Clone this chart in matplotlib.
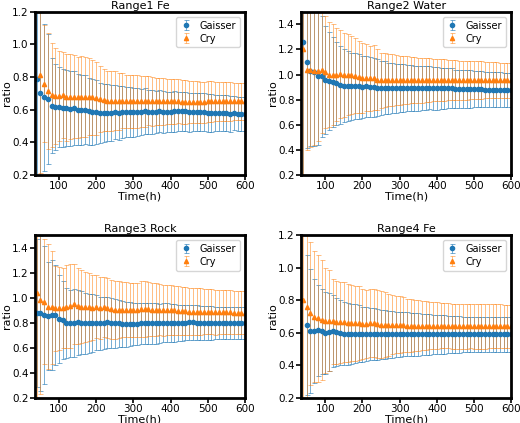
import numpy as np
import matplotlib
matplotlib.use("Agg")
import matplotlib.pyplot as plt

nan = np.nan
time_h = list(range(40, 610, 10))

# ---- Range1 Fe
r1_gai = [0.79, 0.70, 0.675, 0.665, 0.625, 0.615,
          0.615, 0.61, 0.61, 0.605, 0.61, 0.60, 0.595, 0.60, 0.59, 0.585,
          0.585, 0.58, 0.58, 0.58, 0.58, 0.585, 0.58, 0.585, 0.585, 0.585,
          0.585, 0.585, 0.585, 0.59, 0.585, 0.585, 0.585, 0.59, 0.585, 0.585,
          0.585, 0.59, 0.59, 0.59, 0.59, 0.585, 0.585, 0.585, 0.585, 0.585,
          0.58, 0.58, 0.58, 0.58, 0.58, 0.58, 0.575, 0.58, 0.575, 0.575,
          0.575]
r1_gai_err = [0.9, 0.55, 0.45, 0.40, 0.29, 0.265,
              0.245, 0.24, 0.235, 0.23, 0.225, 0.22, 0.215, 0.21, 0.205, 0.20,
              0.195, 0.185, 0.18, 0.175, 0.17, 0.165, 0.165, 0.16, 0.155, 0.155,
              0.15, 0.145, 0.14, 0.14, 0.135, 0.135, 0.13, 0.13, 0.13, 0.125,
              0.125, 0.125, 0.12, 0.12, 0.12, 0.12, 0.115, 0.115, 0.115, 0.115,
              0.115, 0.115, 0.11, 0.11, 0.11, 0.11, 0.11, 0.105, 0.105, 0.105,
              0.105]
r1_cry = [nan, 0.81, 0.76, 0.715, 0.69, 0.685,
          0.685, 0.69, 0.675, 0.68, 0.68, 0.675, 0.68, 0.68, 0.68, 0.675,
          0.67, 0.665, 0.66, 0.655, 0.655, 0.655, 0.65, 0.655, 0.65, 0.65,
          0.65, 0.65, 0.65, 0.65, 0.655, 0.65, 0.65, 0.65, 0.65, 0.65,
          0.65, 0.65, 0.65, 0.645, 0.645, 0.645, 0.645, 0.645, 0.645, 0.645,
          0.65, 0.65, 0.65, 0.65, 0.65, 0.65, 0.65, 0.65, 0.65, 0.65,
          0.65]
r1_cry_err = [nan, 0.6, 0.36, 0.355, 0.32, 0.295,
              0.275, 0.265, 0.265, 0.26, 0.255, 0.25, 0.25, 0.245, 0.235, 0.23,
              0.225, 0.20, 0.19, 0.185, 0.185, 0.18, 0.175, 0.17, 0.165, 0.165,
              0.16, 0.16, 0.155, 0.155, 0.15, 0.15, 0.145, 0.145, 0.145, 0.14,
              0.14, 0.14, 0.135, 0.135, 0.135, 0.13, 0.13, 0.13, 0.125, 0.125,
              0.125, 0.125, 0.12, 0.12, 0.12, 0.12, 0.12, 0.115, 0.115, 0.115,
              0.115]

# ---- Range2 Water
r2_gai = [1.26, 1.10, 1.03, 1.02, 0.99, 0.985,
          0.955, 0.95, 0.94, 0.93, 0.915, 0.91, 0.91, 0.905, 0.91, 0.905,
          0.90, 0.905, 0.90, 0.90, 0.895, 0.895, 0.895, 0.89, 0.89, 0.89,
          0.89, 0.89, 0.89, 0.89, 0.89, 0.89, 0.89, 0.895, 0.895, 0.89,
          0.89, 0.89, 0.89, 0.89, 0.89, 0.885, 0.885, 0.885, 0.885, 0.885,
          0.885, 0.885, 0.885, 0.88, 0.88, 0.88, 0.88, 0.88, 0.875, 0.875,
          0.875]
r2_gai_err = [1.2, 0.69, 0.60, 0.59, 0.55, 0.485,
              0.43, 0.39, 0.36, 0.33, 0.31, 0.29, 0.28, 0.27, 0.265, 0.26,
              0.25, 0.245, 0.24, 0.235, 0.225, 0.215, 0.21, 0.205, 0.20, 0.195,
              0.19, 0.19, 0.185, 0.185, 0.18, 0.18, 0.175, 0.175, 0.17, 0.17,
              0.17, 0.165, 0.165, 0.16, 0.16, 0.155, 0.155, 0.15, 0.15, 0.15,
              0.145, 0.145, 0.145, 0.14, 0.14, 0.14, 0.14, 0.14, 0.135, 0.135,
              0.135]
r2_cry = [1.20, 1.04, 1.035, 1.03, 1.03, 1.035,
          1.02, 1.0, 1.0, 1.0, 1.005, 1.0, 1.0, 0.995, 0.99, 0.98,
          0.975, 0.975, 0.97, 0.975, 0.96, 0.955, 0.955, 0.955, 0.955, 0.955,
          0.955, 0.955, 0.955, 0.955, 0.955, 0.955, 0.955, 0.955, 0.955, 0.955,
          0.955, 0.955, 0.955, 0.955, 0.955, 0.955, 0.955, 0.955, 0.955, 0.955,
          0.955, 0.955, 0.955, 0.955, 0.955, 0.955, 0.955, 0.955, 0.955, 0.955,
          0.955]
r2_cry_err = [1.2, 0.64, 0.615, 0.59, 0.56, 0.50,
              0.45, 0.42, 0.40, 0.37, 0.35, 0.335, 0.32, 0.31, 0.30, 0.29,
              0.28, 0.27, 0.26, 0.26, 0.24, 0.22, 0.215, 0.21, 0.205, 0.20,
              0.195, 0.19, 0.19, 0.185, 0.185, 0.18, 0.18, 0.175, 0.175, 0.17,
              0.17, 0.165, 0.165, 0.16, 0.16, 0.16, 0.155, 0.155, 0.155, 0.15,
              0.15, 0.15, 0.15, 0.145, 0.145, 0.145, 0.145, 0.14, 0.14, 0.14,
              0.14]

# ---- Range3 Rock
r3_gai = [0.88, 0.875, 0.865, 0.855, 0.86, 0.86,
          0.83, 0.82, 0.80, 0.795, 0.80, 0.805, 0.80, 0.795, 0.795, 0.80,
          0.80, 0.795, 0.80, 0.805, 0.80, 0.795, 0.795, 0.79, 0.79, 0.79,
          0.79, 0.79, 0.795, 0.795, 0.795, 0.795, 0.795, 0.795, 0.80, 0.80,
          0.80, 0.80, 0.80, 0.80, 0.80, 0.805, 0.805, 0.80, 0.80, 0.80,
          0.80, 0.80, 0.80, 0.80, 0.80, 0.80, 0.80, 0.80, 0.80, 0.80,
          0.80]
r3_gai_err = [0.59, 0.62, 0.55, 0.43, 0.44, 0.40,
              0.35, 0.31, 0.28, 0.27, 0.27, 0.26, 0.25, 0.24, 0.235, 0.23,
              0.22, 0.215, 0.21, 0.205, 0.20, 0.195, 0.19, 0.185, 0.18, 0.175,
              0.17, 0.17, 0.165, 0.165, 0.16, 0.16, 0.16, 0.155, 0.155, 0.155,
              0.15, 0.15, 0.145, 0.145, 0.14, 0.14, 0.14, 0.14, 0.135, 0.135,
              0.135, 0.135, 0.13, 0.13, 0.13, 0.13, 0.13, 0.125, 0.125, 0.125,
              0.125]
r3_cry = [1.04, 0.98, 0.97, 0.93, 0.925, 0.915,
          0.915, 0.92, 0.93, 0.935, 0.95, 0.935, 0.93, 0.925, 0.925, 0.92,
          0.93, 0.92, 0.925, 0.92, 0.91, 0.90, 0.905, 0.905, 0.905, 0.905,
          0.905, 0.905, 0.91, 0.91, 0.91, 0.905, 0.905, 0.905, 0.90, 0.90,
          0.90, 0.90, 0.895, 0.895, 0.895, 0.89, 0.89, 0.89, 0.89, 0.89,
          0.89, 0.89, 0.885, 0.885, 0.885, 0.885, 0.885, 0.88, 0.88, 0.88,
          0.88]
r3_cry_err = [0.9, 0.75, 0.50, 0.50, 0.45, 0.34,
              0.33, 0.32, 0.33, 0.335, 0.32, 0.30, 0.29, 0.28, 0.27, 0.26,
              0.25, 0.245, 0.24, 0.24, 0.235, 0.23, 0.225, 0.22, 0.22, 0.215,
              0.215, 0.215, 0.22, 0.22, 0.215, 0.21, 0.21, 0.205, 0.205, 0.20,
              0.20, 0.195, 0.195, 0.19, 0.19, 0.19, 0.185, 0.185, 0.185, 0.18,
              0.18, 0.18, 0.18, 0.175, 0.175, 0.175, 0.175, 0.17, 0.17, 0.17,
              0.17]

# ---- Range4 Fe
r4_gai = [nan, 0.65, 0.61, 0.61, 0.615, 0.61,
          0.60, 0.605, 0.61, 0.605, 0.60, 0.595, 0.595, 0.595, 0.595, 0.595,
          0.59, 0.595, 0.595, 0.595, 0.59, 0.59, 0.59, 0.59, 0.59, 0.59,
          0.59, 0.59, 0.59, 0.59, 0.59, 0.59, 0.59, 0.59, 0.59, 0.59,
          0.59, 0.59, 0.59, 0.59, 0.59, 0.59, 0.59, 0.59, 0.59, 0.59,
          0.59, 0.59, 0.59, 0.59, 0.59, 0.59, 0.59, 0.59, 0.59, 0.59,
          0.59]
r4_gai_err = [nan, 0.43, 0.38, 0.32, 0.28, 0.26,
              0.25, 0.24, 0.22, 0.21, 0.20, 0.195, 0.19, 0.185, 0.18, 0.175,
              0.17, 0.165, 0.16, 0.16, 0.155, 0.15, 0.15, 0.145, 0.145, 0.14,
              0.14, 0.135, 0.135, 0.13, 0.13, 0.13, 0.125, 0.125, 0.125, 0.12,
              0.12, 0.12, 0.12, 0.115, 0.115, 0.115, 0.115, 0.11, 0.11, 0.11,
              0.11, 0.11, 0.11, 0.11, 0.105, 0.105, 0.105, 0.105, 0.105, 0.105,
              0.105]
r4_cry = [0.80, 0.76, 0.72, 0.70, 0.69, 0.68,
          0.675, 0.675, 0.67, 0.665, 0.665, 0.665, 0.66, 0.66, 0.66, 0.66,
          0.655, 0.655, 0.66, 0.66, 0.655, 0.65, 0.65, 0.65, 0.65, 0.65,
          0.65, 0.65, 0.645, 0.645, 0.645, 0.645, 0.645, 0.645, 0.645, 0.645,
          0.645, 0.645, 0.645, 0.645, 0.64, 0.64, 0.64, 0.64, 0.64, 0.64,
          0.64, 0.64, 0.64, 0.64, 0.64, 0.64, 0.64, 0.64, 0.64, 0.64,
          0.64]
r4_cry_err = [1.0, 0.6, 0.44, 0.40, 0.39, 0.37,
              0.32, 0.31, 0.26, 0.255, 0.25, 0.245, 0.24, 0.235, 0.23, 0.225,
              0.215, 0.21, 0.21, 0.21, 0.21, 0.205, 0.20, 0.19, 0.18, 0.175,
              0.175, 0.17, 0.165, 0.16, 0.155, 0.155, 0.15, 0.15, 0.145, 0.145,
              0.145, 0.14, 0.14, 0.14, 0.14, 0.14, 0.14, 0.14, 0.14, 0.135,
              0.14, 0.14, 0.14, 0.14, 0.135, 0.135, 0.135, 0.135, 0.13, 0.13,
              0.13]

titles = ["Range1 Fe", "Range2 Water", "Range3 Rock", "Range4 Fe"]
ylims = [(0.2, 1.2), (0.2, 1.5), (0.2, 1.5), (0.2, 1.2)]
panels = [(r1_gai, r1_gai_err, r1_cry, r1_cry_err),
          (r2_gai, r2_gai_err, r2_cry, r2_cry_err),
          (r3_gai, r3_gai_err, r3_cry, r3_cry_err),
          (r4_gai, r4_gai_err, r4_cry, r4_cry_err)]

fig, axes = plt.subplots(2, 2, figsize=(5.2, 4.23), dpi=100)
fig.subplots_adjust(left=0.067, right=0.983, top=0.972, bottom=0.059,
                    wspace=0.267, hspace=0.37)

for ax, title, ylim, (g, ge, c, ce) in zip(axes.flat, titles, ylims, panels):
    ax.errorbar(time_h, g, yerr=ge, fmt="o", color="#1f77b4", ms=3,
                ecolor=(0.12, 0.47, 0.71, 0.7),
                elinewidth=0.6, capsize=1.8, capthick=0.6, label="Gaisser")
    ax.errorbar(time_h, c, yerr=ce, fmt="^", color="#ff7f0e", ms=3,
                ecolor=(1.0, 0.5, 0.05, 0.6),
                elinewidth=0.6, capsize=1.8, capthick=0.6, label="Cry")
    ax.set_xlim(35, 600)
    ax.set_ylim(*ylim)
    ax.set_xticks([100, 200, 300, 400, 500, 600])
    ax.set_title(title, fontsize=8, pad=2)
    ax.set_xlabel("Time(h)", fontsize=8, labelpad=0)
    ax.set_ylabel("ratio", fontsize=8, labelpad=0)
    ax.tick_params(labelsize=7.5, length=3.5, width=1.2, pad=1)
    for s in ax.spines.values():
        s.set_linewidth(2)
    ax.legend(loc="upper right", fontsize=7, handlelength=1.2,
              borderpad=0.4, labelspacing=0.3)

fig.savefig("out.png", dpi=100)
